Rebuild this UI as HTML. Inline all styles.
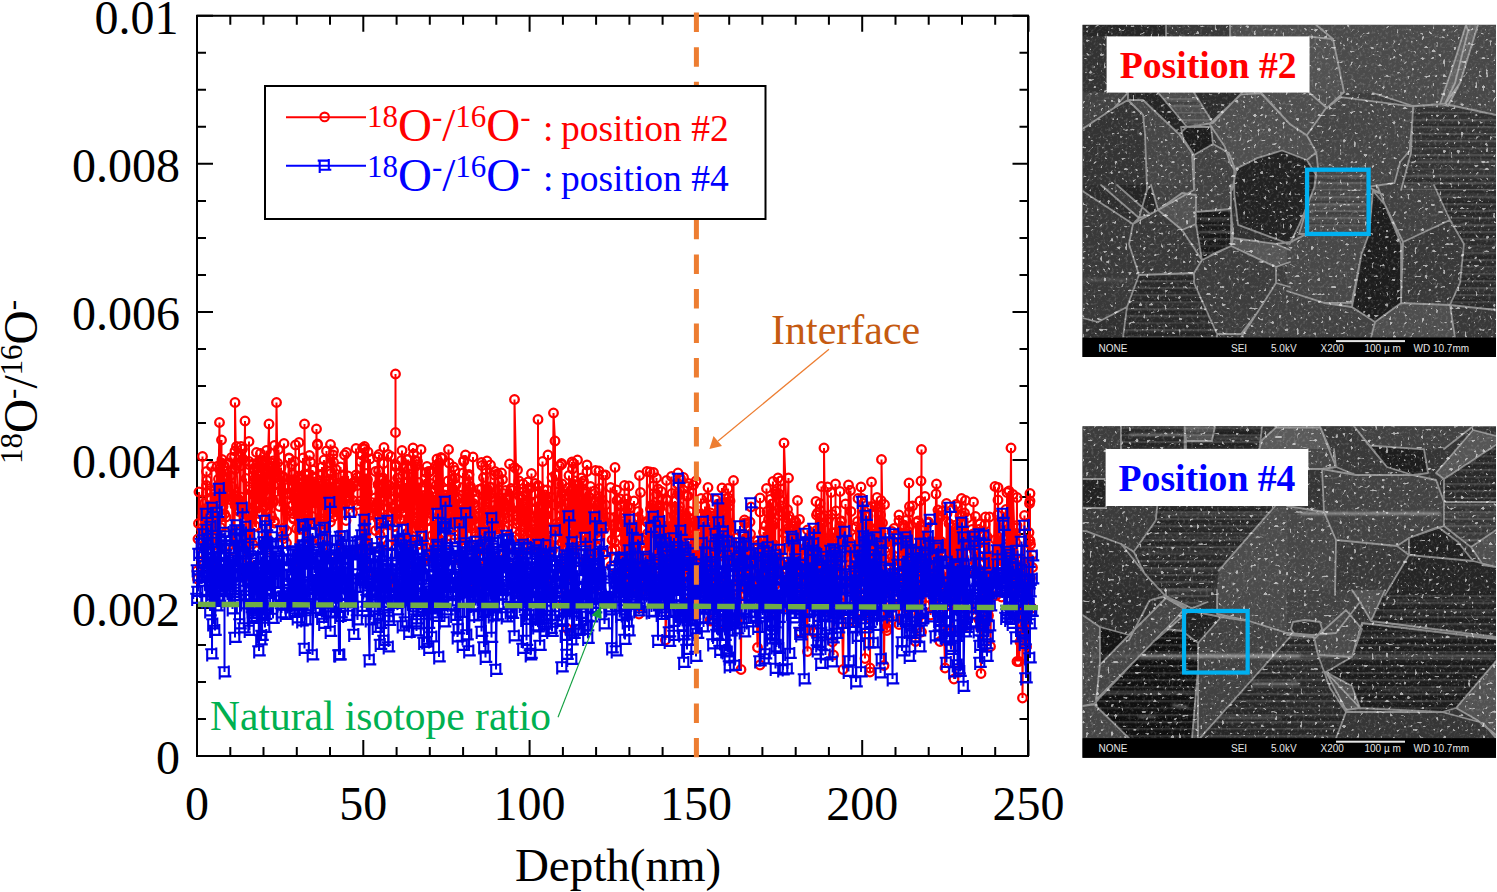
<!DOCTYPE html>
<html><head><meta charset="utf-8"><title>18O/16O depth profile</title>
<style>html,body{margin:0;padding:0;background:#fff;overflow:hidden}svg{display:block}</style></head>
<body><svg width="1497" height="892" viewBox="0 0 1497 892">
<rect width="1497" height="892" fill="#fff"/>

<path d="M197 756.0v-16M197 15.8v16M230.3 756.0v-9M230.3 15.8v9M263.5 756.0v-9M263.5 15.8v9M296.8 756.0v-9M296.8 15.8v9M330 756.0v-9M330 15.8v9M363.3 756.0v-16M363.3 15.8v16M396.6 756.0v-9M396.6 15.8v9M429.8 756.0v-9M429.8 15.8v9M463.1 756.0v-9M463.1 15.8v9M496.3 756.0v-9M496.3 15.8v9M529.6 756.0v-16M529.6 15.8v16M562.9 756.0v-9M562.9 15.8v9M596.1 756.0v-9M596.1 15.8v9M629.4 756.0v-9M629.4 15.8v9M662.6 756.0v-9M662.6 15.8v9M695.9 756.0v-16M695.9 15.8v16M729.2 756.0v-9M729.2 15.8v9M762.4 756.0v-9M762.4 15.8v9M795.7 756.0v-9M795.7 15.8v9M828.9 756.0v-9M828.9 15.8v9M862.2 756.0v-16M862.2 15.8v16M895.5 756.0v-9M895.5 15.8v9M928.7 756.0v-9M928.7 15.8v9M962 756.0v-9M962 15.8v9M995.2 756.0v-9M995.2 15.8v9M1028.5 756.0v-16M1028.5 15.8v16M197.0 756h16M1028.5 756h-16M197.0 719h9M1028.5 719h-9M197.0 682h9M1028.5 682h-9M197.0 645h9M1028.5 645h-9M197.0 608h16M1028.5 608h-16M197.0 571h9M1028.5 571h-9M197.0 533.9h9M1028.5 533.9h-9M197.0 496.9h9M1028.5 496.9h-9M197.0 459.9h16M1028.5 459.9h-16M197.0 422.9h9M1028.5 422.9h-9M197.0 385.9h9M1028.5 385.9h-9M197.0 348.9h9M1028.5 348.9h-9M197.0 311.9h16M1028.5 311.9h-16M197.0 274.9h9M1028.5 274.9h-9M197.0 237.9h9M1028.5 237.9h-9M197.0 200.9h9M1028.5 200.9h-9M197.0 163.8h16M1028.5 163.8h-16M197.0 126.8h9M1028.5 126.8h-9M197.0 89.8h9M1028.5 89.8h-9M197.0 52.8h9M1028.5 52.8h-9M197.0 15.8h16M1028.5 15.8h-16" stroke="#000" stroke-width="2" fill="none"/>
<path d="M197.0 15.8V756.0M1028 15.8V756.0M197.0 15.8H1028M197.0 756.0H1028" fill="none" stroke="#000" stroke-width="2" stroke-linecap="square"/>

<defs>
<marker id="mc" markerUnits="userSpaceOnUse" markerWidth="14" markerHeight="14" refX="7" refY="7" overflow="visible"><circle cx="7" cy="7" r="4.3" fill="none" stroke="#ff0000" stroke-width="2.3"/></marker>
<marker id="ms" markerUnits="userSpaceOnUse" markerWidth="14" markerHeight="14" refX="7" refY="7" overflow="visible"><path d="M0.2 2.25H11.8M11.3 0.5V10.9M1.7 11.4H13.8M2.2 2V14.6" fill="none" stroke="#0000e6" stroke-width="2.1"/></marker>
</defs>
<path d="M197 571l0.5 8l0.5-40l0.5-15.5l0.5-31.5l2.5 36.5l0.5 32.5l0.5-104.5l0.5 59.5l0.5 16l0.5-0.5l0 32l0.5-60l0.5 7l1.5-39l0 14l0 7l0.5-12l0 45l1 3.5l1.5-15l0.5 35l0-33l0.5 5l0-30.5l0.5 19.5l0 56l0-57.5l0.5-42l0.5 96l0-32l0.5-24l0 39.5l0.5-23.5l0-18l0.5 39l1-49.5l0.5-4l1.5 46.5l0.5-39l0-31l0.5 37l0.5-18l0.5-6.5l1-56.5l0 46.5l0.5 18l0.5 40.5l0.5-45l0-10l0 1.5l0 43l0.5-32.5l0-44.5l0 51l0-28l0.5-3.5l0.5 39.5l0.5-21l0 28.5l1-40.5l0.5 34.5l0 13.5l0-15.5l0 1.5l0-13.5l0-2.5l1 48.5l0.5-15.5l0-30l0.5-3.5l0.5 11.5l0.5-32l1 1l1 35.5l1-24l1-18l0.5 29l0.5 63l1-55l0.5 1l0.5-38.5l0 95l0.5-101l0 50.5l0-32l0 36l0-103l1 60.5l0.5-16.5l0 19l1.5 33.5l0 10l0.5-5.5l0.5 8l0.5-11l0-44.5l0.5 75.5l0 14.5l0.5-49l0.5-50.5l0.5 19l1-16.5l0.5 10l1 59l1-97l0.5 155l0.5-61.5l0-36l0 64.5l1.5 15l0.5-23l1-45.5l0-28l0-20l0 23l0.5 77l0.5 24l2-74l0.5-27l0 79.5l0.5-32.5l0.5-2.5l0-14.5l0 6.5l0-21l0-16l0.5 29.5l0-25l0 2l1 55.5l1 0.5l0-46.5l0.5-27.5l0 37.5l1.5-27.5l0 41.5l0-36.5l1 46l0.5-39l0.5 8.5l0.5 0l0-29.5l0.5 9l0 50l0.5-44.5l0.5 77l0.5-80.5l0-4l0.5 17.5l0 1l0.5 13l0-23l0 38.5l0.5-44.5l1 39l0 4.5l0-16.5l0.5 5l0 50.5l1-95l0 38.5l0 55l0.5-83l0 33l0-7l2-63l0.5 96l1 61.5l0.5-115l0 19.5l0.5-23l0 53l1-15l0.5-40l0 41.5l0.5-2l0.5-15l0.5 37.5l0-77.5l0 75.5l0.5-29l1-18l0.5-71.5l1 74.5l0-14l1-13.5l1 26.5l0 30.5l1.5-39l0.5 69l0.5-44.5l0.5-14.5l0.5-1l1 51.5l0 10.5l0-95l1.5 65.5l1 34l0.5-12l0.5-37.5l1.5-35l0 35.5l0-36l0 29l2-7l0.5-15.5l0.5 41l0.5-20.5l0 21l0.5 7.5l0-39l0.5 44.5l0-27l0 26l0-21l1 13.5l0-49l0.5 30.5l0 0.5l0.5-47.5l0 136.5l1-53l0.5 49l0.5-82l0.5-13.5l0.5-6l0 11l0.5 34.5l0-79l0 44l0.5 17l0 26l0.5-46.5l0.5 27.5l0.5-1l0.5-20l0.5 0l0 31l1-62.5l0.5 68l0 3.5l0-42.5l0.5 5l0 2l0 14.5l0.5-13.5l0 18l0-89l0.5 50l0.5 53l0.5-24l0.5-28.5l1 21l0.5-20.5l0 63.5l0.5-19.5l0.5-25.5l0.5-38l0 48.5l0.5 35.5l0.5-77.5l1.5 62l0-21.5l0.5-32.5l0 46.5l0-40l1.5 5.5l0.5 20.5l0-14.5l1 37l0.5-25l0.5-71l0.5 70l0.5-55l0 39l0-38l0.5 81l0.5-28.5l0.5 5.5l0 36.5l0.5-59l1 38l0-15.5l0 39.5l1.5-75.5l0.5 7l0.5 11l0.5 39l0-11l0.5-53l0 45l0.5-16l0.5 3.5l0.5 38l1-79.5l0.5 105.5l0.5-66.5l0 9.5l0 46l2.5-58.5l0-6l0 14l0.5 27l0-39l0-20l0 27l0-45.5l0 26.5l0.5 2.5l2-18.5l0 62l0-4.5l0-31.5l0.5 0l0-30l0 11l0.5 29.5l1-1.5l0.5 15l0 2.5l0.5 3l0-41l0 41.5l1-3.5l0.5-16l0 20.5l0.5-8.5l1 59l0.5-77.5l0.5 20.5l0-15l0.5-5.5l0 67l0-85l0.5 24l0.5-1l0 59l1-73l0.5 6l0.5 23l0-18.5l1-31.5l1 48.5l0.5 17l0.5-68l1 32.5l0.5 13l0-22l0.5 11.5l1 10.5l0.5-13.5l0 20l1-18.5l0.5 2l1 24.5l0.5-12l1-17.5l2-2l0-6l0-26.5l1.5 37l0-8.5l0 27.5l3-3.5l0-39.5l0 91.5l1-71l0.5-27l0.5 94.5l0-101.5l0.5 99l0-64l1.5-36.5l0 2.5l0 73l0.5 12l0.5 4.5l0.5-65l0 33.5l0.5-12l0.5-7.5l0-4.5l0.5-3.5l0 12.5l0.5 53l0-93l1.5 127.5l0.5-120.5l0.5 56l1-12.5l0 10l1-4.5l2.5-10l0 8l0.5 24.5l0-59l1.5 43.5l0.5-58l0 45.5l0.5 16.5l0-34.5l0.5-13.5l0 14l0.5 21.5l0-52l0.5 74l0-4.5l0.5-31l0 42l0.5 38l0-24l1-62l0-8.5l0.5 2l0 6l0.5 10l0.5-18.5l0.5-14.5l0.5 56.5l0-72.5l0 62l0.5-16.5l1.5-5.5l2 57l0-90l0 70.5l0.5-23l0 12l0.5-29l0.5 1l0.5 12.5l1-42l0 34.5l0.5 20.5l0.5 76l0.5-79.5l1.5 0.5l0.5 18l0-0.5l1-93.5l0-58.5l0 92.5l0.5-1.5l0 56.5l1.5-29l0 49.5l0-64l2.5 11.5l0 29.5l1-15l0.5 4.5l0 11.5l0-59.5l0.5-10l0.5 25l0.5-7l0 27.5l0.5 15.5l0.5-44l0 45l0.5-23.5l0.5 16l0.5-22l0 20l0.5-20l0 57l0.5-35.5l0.5-45l0.5 73.5l0.5-11l0-62.5l0 29.5l1-20l0 101l0.5-72.5l0.5 43.5l0 3.5l0.5-55l1-23.5l0.5 82l0-12l0.5-16l0-14l0 37l0.5-95l0 36.5l0.5-30.5l0.5 64.5l1-58l0.5 6l1 51.5l0-25.5l0-28l0.5 75l0-18.5l0.5-59.5l0.5 63l0-8l0.5 28l0-17.5l0.5-44.5l0.5 46.5l0 15l1-21l0.5-73.5l0.5 49l0.5 23l0-22l0.5-9l1 10l0.5 59.5l0-64.5l1 16l0-32.5l0.5 67.5l0.5-74l0.5 48l0.5 37l0-91l0.5 54.5l1-27l0.5 16.5l0-38.5l0.5-0.5l0.5 0l0.5 12l0.5 6.5l0 68l0.5-58l0.5 35.5l1-43.5l0 9l0.5 49l1.5-11.5l0.5 3l0.5-7.5l0-21l0-27.5l0-20l1 71.5l0-12.5l0-65.5l0.5 20l0.5 20.5l0 51l0-12.5l0-36l0 23l0-59l0 38l0.5-5.5l0 42.5l0.5-1.5l0-76.5l0 63.5l0.5-12l0.5-19l0 4.5l1-42.5l0 92l0.5-48.5l0.5-1l0.5-41.5l1 56l0-17l1 35.5l0-38l0.5 0.5l0.5 32l0.5-6l0.5-12.5l0-19l0.5 54l1-63l0 37.5l0.5-69l0.5 13.5l0 58l1.5 7l2-49l0 10.5l0.5 2l0 30.5l0-9l0.5-46l0 23l1 45l0.5-64.5l0 29l0 39.5l0-60.5l0.5 36.5l0.5-30l0.5 41.5l1-28l1 61.5l1-61.5l0.5 58.5l0.5-52l0 84l2-77l0-24.5l0 7.5l0.5-22l0.5 70.5l0-82l0.5-1l1 87.5l0.5-93l0 73.5l0.5-17l0.5-6.5l0.5 82.5l0.5-95l0.5 26.5l0-24.5l0.5-13l0 40.5l0-46l0 18.5l0.5 26.5l0-46.5l1.5 12l0 40.5l1.5 34.5l0-33l0.5-36l0.5 26.5l0-62l0.5 46.5l1 2.5l0-6.5l1 40l0-23.5l0 16.5l1 52.5l1.5-17.5l1-78l0 37l0.5-10l0.5 42l1-27.5l0.5-42.5l0-26l0.5 66.5l0-63.5l0.5 49.5l1 9l0-46.5l0 89.5l0.5-71l0 52l0.5-10l0-3.5l0.5-25l0 0.5l0.5-6l0.5 3l0-37l1-9l1 30.5l0-1.5l0.5 35.5l0.5 22.5l0-52.5l0 17l0.5-25.5l0.5 84l0.5-106l0 88.5l1-40.5l0-25.5l0.5 70l0-26l0.5 45.5l1-18l0 16l0-64l0-5.5l0.5 19l0.5-49.5l0.5-3.5l1 43.5l0 6.5l0 2l1.5 5.5l0-55l1 33.5l0.5 18l0-43.5l0.5 16l0.5 29.5l1-22l0.5 11l0-43.5l1 6.5l0 80l0-39l0.5-27l0.5 36l2-39l1 15l0.5-8l0.5 20.5l0-11.5l1-6.5l0 62l0.5-17l0 3l0.5-84l0 43l0-2l1 6l0.5-22.5l1 51.5l0.5-49.5l0.5 38l1.5-61l0-68l2.5 115l0 9.5l0-4.5l0-3l0.5-46.5l1.5 11l0 72.5l0-44l0-14l0 50l0.5-8l0.5-5.5l1 61l0-95.5l0 21.5l0.5 1.5l1-5l0-5.5l0.5-26l0 28.5l0.5-20.5l1 42.5l0-27.5l0.5 21l1-5l0.5 23.5l0-2.5l0-40l0-9l0 9l0.5 35.5l0-31l0 89l0.5-108.5l0 30.5l0.5-9.5l0-28l1.5 50l0-43.5l0.5 44l0.5-30.5l0.5 29.5l0.5-22l0-36l0.5 65.5l0.5-1l1.5-8.5l1-20l0-26l0.5 54l0 45.5l0.5-43.5l0-38l0.5 35l0.5-17.5l0 30.5l0.5-9l0 37.5l0.5-64.5l0-94l0 66l1 1l0.5 60l0.5-38l1.5 9.5l0-22l0 76l1-50l0-60.5l0.5 61l0-9.5l0.5 7l0 37.5l0.5-67.5l0 21.5l0.5 3.5l0.5-18l0-2l0.5 84.5l0-74.5l0 33.5l0.5-23.5l0.5 27.5l0.5 5l0-57.5l0 30.5l0.5 8.5l0.5 0l0-74l0 65.5l1.5 74.5l0.5-47.5l1-19.5l0-31l1-19.5l0.5 72.5l1-137l1.5 28l0 64l0.5 32.5l0 2l0-64.5l1 52.5l0-4l2-39.5l1-18l1.5 102.5l0-41.5l0.5-6l0-57.5l0 1l0 58l0-13.5l0.5-16l0-9l0 46.5l0-37l0 49l0 63l0.5-41l1.5-50.5l1-18l0.5 96.5l0-14.5l1.5-56l0 106.5l0.5-125.5l0-15l0.5 53.5l0-45.5l1 31l0-51.5l0.5 36l0.5 17l0.5-11.5l0-26.5l0 24l1 5l0 47l0-61.5l0.5 14.5l0-57.5l0 59l0 2l0 17.5l0-43l0.5 29.5l0 16l0-74l1-5.5l0.5 71.5l0 18l0.5-68.5l0.5 63l0-66.5l0 44l0.5-35l0.5 72l0-40.5l0.5-36l0.5 21l0.5 31.5l0-78l1.5 37l0 31.5l0.5 12l1-11l1-51.5l0 68l1-26l0.5-36.5l0.5-2.5l0.5 45.5l0-33l0.5 10l0.5 37l0.5-41.5l0.5-7.5l0 67l0.5-59.5l0.5-34l0 6.5l0.5 29.5l0 64l0.5-58l0.5 34l0.5-44l0 26.5l1 37l0.5-74l1 43l0 26l0.5-35l0.5 33.5l1-44l0.5 15l0 9.5l0-33.5l0.5 63.5l0-73.5l0.5 97l0.5-117.5l0.5 46.5l0.5 14.5l0 15.5l0.5-41.5l0.5 23l0.5 0.5l1-58l0 66.5l0.5-6.5l0-21.5l0-21l1 40l0.5-10l0.5 3.5l0-22.5l1.5-24.5l1 79.5l0.5-26l1-3l0-20.5l0-30l2 50l2-7.5l1-30l0.5 78.5l1-15.5l0-10.5l1.5-14.5l0.5-8l0.5 25l0.5-75l0 81.5l1-16.5l0.5-42.5l0.5 10.5l1.5 26l1.5-12.5l0.5-15l0.5 28l0-22l0.5 52l0.5-32.5l1 56.5l0.5-24.5l0.5 8.5l0.5-79.5l0 57l0.5-25l0 40.5l0.5-24l0 2.5l0 19.5l1-57l0 84l1-76l1.5-21l0 69.5l0-28.5l0.5 53.5l0-51l0.5 57l0.5-78.5l0.5 37.5l0 45l1-18l0.5 10l0.5-43.5l1-38l1 42.5l0.5 26l0.5-11l0-32l1.5 60.5l0.5-75.5l0.5 6l0.5 96.5l0.5-138.5l0 111l1-47.5l0-46.5l1.5 95l2.5 7.5l0.5-24.5l0.5-1l0-32l0 13.5l0.5-1l0.5-28.5l0.5-50l0 91l0.5-40l0 11l1.5 35l1-96.5l0.5 105l0-68l0.5 50.5l0-38l0.5-5.5l0.5-11l1.5-19l0 76.5l0-90l0.5 47.5l1.5 42l0.5 18.5l0.5-86.5l0-16l0 56.5l1-26.5l0.5-19l0 41.5l0.5 18l1-13.5l0-29.5l0 27.5l0.5 43l0-68l0 85l0.5-33.5l1-68l0 34.5l0 0l0 4.5l1-31.5l1.5 37l1 65.5l0.5-75l0 113.5l1-35l0-124.5l0 19l0.5 51.5l0-13.5l0.5-5.5l0-31.5l1 61.5l0 3.5l1-8.5l0-26.5l0.5-4l0 22.5l0.5-39.5l0 61l1-94l0.5 83l0-13.5l0-52.5l0 53.5l1.5 23.5l0.5-36l0 36l0-55l0.5-8.5l0.5-6l1 72l1-31.5l1-68.5l0 11.5l0 8.5l0-9l0.5 100l0.5-89l0 15.5l0.5-4l1-28l0 42.5l0.5 13l1-18l0 33l0.5-29l0.5 86.5l0.5-129l0.5 78l0-37l0 8l0 7l0.5 0l0.5 1.5l0 59l0.5-37.5l1-60.5l0.5 77l0.5 1.5l0-88l0.5 9.5l0.5-12.5l0 55l0.5-10l0.5-17l1 7l0.5 23l1 47.5l0.5-25l0 27l1-106l0.5 68l0-8l0.5-16l1 9.5l0-17.5l0 40l0 31.5l0.5-111.5l0 83.5l0.5-8.5l0.5 11.5l0.5-8.5l0-20l0-25l2.5 63l0-3.5l0.5-10l0.5-65l0 84.5l0-46l0.5-21l1 72l1-51l0-1l1 32.5l0.5-20l0-42l0.5 26l0.5 23l0-7l0-22.5l1-28.5l0 16.5l0 2l1-28.5l0 107.5l1-3.5l1 29l0.5-107.5l0 108l0.5-77.5l0.5-27.5l0.5 74.5l0.5-25.5l0.5-13.5l0-34.5l0 78l1.5-63.5l0.5-13l0 19l0.5 0l0-38l0 35.5l1.5 8.5l0.5 11l0-34l0.5 32.5l0-32.5l0 19l0.5-35.5l0 66.5l0.5-60l0 20.5l0.5-2l0.5-25l0.5 26l0.5-18l1-24l1 26.5l0.5 65.5l0 43l1-102.5l0 36.5l0.5-23.5l0 16.5l1-51.5l0 4l0.5 80.5l0.5-48.5l0.5 20l0 6l0-39l0.5 27.5l0-20l0-40.5l0.5 9.5l0.5 8l0.5 52.5l0 26.5l0.5-84l0 54l1-12l0.5 14.5l0-16.5l2-60.5l1 106l0.5-32l1-16.5l0.5 60.5l0-12l1-24.5l0 3.5l0.5-13l1 20l0 7.5l0-2l0.5-18.5l0.5-9.5l1 119.5l0.5-104.5l1-31l0.5 16.5l0 43l0.5-35l0.5-11.5l0.5-27l0 83l0-80l0 39.5l0.5-23l1-16.5l0.5 54l1.5-2l1.5-24l0.5-29l0 44l0.5 30.5l0-25l0-37.5l0.5-27l0.5 58l0.5-6l0-5l3.5-1.5l2 95l0-84l0-22.5l0.5 4l0 2.5l0.5 36l0-16l1.5 97.5l0-153l0-14l0.5 85l0-26.5l0 2.5l0.5-0.5l0.5 35l0-15.5l1.5-13.5l0.5-19l0-13.5l1 25l0 31l0.5-37.5l0 1l0-3.5l0.5-22.5l0.5 31l0 1.5l0.5-69.5l0.5 23l0.5 40.5l0 29.5l0.5-17l0.5-29l0-16l1.5-20l0 58l0.5-14l0 17.5l0.5-15l0 16l0.5 23.5l0.5-72.5l0 31l0-40l0.5 62l0.5-84.5l0 44l0 88l1-19.5l0-71.5l0.5 22.5l0 67l0.5-38l0 11l0.5-93.5l0.5 3l0.5-1l1.5-15.5l0.5 79l0.5 17l0-80l0 21.5l1.5-15l0-19.5l0 30.5l1-5.5l1 102l0.5-31l0.5-44l0.5-90l3 80.5l0.5 41.5l0-55.5l1-31.5l0 50l0-9l0.5 11.5l0-14.5l1 24.5l0 25l0-24.5l1 3.5l1 57l0-61.5l0 7.5l0-6.5l0.5 26.5l0.5-36l0.5-5l0 46.5l1-36l0.5-16l1 1.5l0.5 58.5l0 3.5l0.5-36.5l0.5 37.5l0-85l0.5 77l1.5-58l0.5 52l0-5l0 65.5l0.5-76.5l0.5 29.5l0-16l0.5 38.5l0-25l3-25.5l0-2.5l0.5 36.5l0-14l0 5l0.5-34.5l0.5 10l1.5 94l0-121.5l0 47.5l0.5-38l1 46l0.5-42.5l0 14.5l1-6l0.5-15.5l0.5 2l1 10l0.5 0l0 50.5l1-42l0 74.5l0 1.5l1.5-67.5l0-3l0.5-60.5l0.5 29l0-15.5l0.5 50l0-26.5l0.5-25.5l0 22.5l0.5 6l0 8.5l0 36l0.5-1l0.5 19l1-100.5l1 60l0 14l0-36.5l0.5 33l0-57l0-30.5l0 51l0.5 40.5l0 28.5l1-83.5l0.5 14.5l0.5 57.5l0-79.5l0-67.5l1.5 121.5l0.5-7.5l0.5 4.5l0.5 27.5l0.5-107l1 32l0.5 21.5l0.5 12l0.5 58l0-37l1-27l0-54l0 74l1-25.5l0-26.5l0 18.5l0.5 109l0.5-109l0 43l0.5-1l0 80l0.5-63l1.5-59.5l0-48.5l0 95.5l0.5-68.5l0.5 26l0 7l0.5 31l1-14.5l0.5 7.5l0.5-35.5l1-6.5l0-34.5l0.5 30l0 9l0.5 72.5l0.5-82l0 68.5l1.5 80l2-125l0.5-40.5l0.5 79.5l0.5-13.5l1-29.5l1 16l0-71.5l1 101.5l1-96l0.5 21l1 39.5l0.5-2.5l0.5 33l1.5 40l0-52l0.5 8l0-16.5l0.5 37l0.5-71l0.5 10l1-15.5l0 97.5l0.5-120.5l1 58.5l0 44.5l0.5-2l1.5-112.5l0 106.5l0.5-23.5l0.5-71.5l0 17.5l0.5 24l0.5 8l0-20l0.5-24.5l0.5 50l0.5 11l0-29.5l0.5 123.5l0-105.5l0 18l0.5-14l0 6l0-19l0.5 8.5l0 1.5l0 7l0.5 21l0.5-7l1-49.5l0 92l0-101.5l0.5 24l0.5 62.5l0-30.5l0-63.5l1 53l0 106.5l0 4l0.5-128l0 9l0.5-18.5l0.5-52.5l0 74.5l0-5l0-45l1.5 52.5l0.5-1.5l0-28.5l0.5 7.5l0 48l0.5-10.5l0.5-67.5l0.5 85l1-62l0.5-32l0 35.5l1 14.5l0.5-40.5l0 37l1 13l0.5 7.5l0.5-49.5l0 16.5l0.5-31l0 68.5l0.5-0.5l0 4.5l0-26l0-87.5l1 63.5l1 21.5l0.5 48.5l0 72.5l0.5-41.5l0-119.5l0.5 55l0.5-7.5l0 20.5l0.5-29.5l0.5 84.5l0.5 3l2.5-13l1-62.5l1.5-23.5l0 8.5l0.5 22l0.5 42.5l1-76l0.5 39.5l0 39l0-46.5l0 14.5l0.5 9l2.5-4.5l0.5 26l0-57l0.5 16l0.5-44l0 104l0-109.5l2.5 45.5l0.5 3.5l0.5 23.5l0 0.5l0.5 25l0.5-88l0.5 41l0 15.5l0.5-54l0.5 49l0.5-9.5l0.5 4l0-50.5l0 33l1.5-1.5l0.5-20.5l0 29.5l1-78l0.5 109.5l0-80.5l0-5.5l0 94l0-74l0.5 21.5l0.5 25l0 29.5l0.5-53l0.5 45l0.5-24l0.5-64.5l0.5 57.5l2.5 78l0.5-119l0.5 78l1.5-79.5l0 63.5l1.5 31.5l0.5-115l1 48.5l0-68.5l0 107.5l0.5-139l0 114l0 68.5l0-31l0.5-11l0.5-25.5l0-34l0.5 55l0.5-4.5l1.5-84.5l0 59.5l0 22.5l0.5-21l0 48l1.5-66.5l1-16l0 57.5l0.5-58.5l0.5 48l0.5-21.5l0.5 38l0.5 2.5l0 26l0.5-64l2 19l0-1.5l0.5 32.5l0 1.5l0.5-19.5l0-41l0.5 6l0.5 36.5l0.5-36l0.5-54.5l0.5 61.5l0-71.5l0.5 59l1-33l0.5 69l0-63.5l0.5 88l0.5-53l0 21.5l0 38l0.5 31.5l0-124l1 24l1-30l0 41l3 115.5l0.5-82.5l0.5-4.5l0.5-2.5l0-75l0 85l0 7l0.5-82l0.5 30l0.5 41l1-8.5l0-52.5l0.5 22.5l0.5 7l0 53l1-62.5l0 59l0.5 29.5l0-105l0 45.5l0 3l0 20.5l0.5-64l2 147l0-140.5l0.5-13l0.5 81.5l1-53l0-1.5l0-48l1 55.5l0 36l0-33l0.5 14l0-70.5l0 29l0.5 12.5l0 6l0.5-25l0 50l0.5 16l0.5 75l0.5-154l0 26l0-5.5l0.5 22.5l1-60.5l0 99.5l0.5-82.5l0 32l0.5 30.5l0 28.5l1-49l0 14.5l0-27l0 38l1 30.5l0-73.5l0-27l0.5 20.5l0.5-33l0.5 45.5l0.5 79.5l0-51.5l1-56l0.5 26l1.5-6.5l2.5-8l0.5 37.5l0.5-33l0 81l0.5-113l0.5 47.5l0.5 1l1-34l0 46l2 7l0.5-25.5l0.5-14.5l0.5 90l0.5-45.5l0-4l0.5-14l0-32l0 88l0-70l0.5 85.5l0.5 46l0.5-91.5l0.5-9.5l0.5 13l0.5-4l1-6.5l0-2.5l0 59.5l0-17l0.5-36l0-36.5l0.5-18l0.5-7.5l1 41.5l0 33.5l0.5-36.5l0-19l0.5 20.5l0.5 45.5l0.5-36.5l0-2l0 51.5l1-7.5l0-91l1 129.5l1-90.5l2 16.5l1.5-86l0.5 53l0.5 56l1.5-80.5l0.5 69l0-96.5l0 12.5l1.5 66l1.5-32.5l0.5 22.5l0 41l1.5-74.5l0.5 24.5l0-16.5l0.5-8l2-13l0.5 14l0 42.5l0-6.5l0.5-12.5l0 20.5l0 4l0-79l0.5 51.5l1.5-53l0 101l1-27.5l0 14.5l1-131l0.5 126l0.5-6.5l0.5 12l0.5-85l1.5 42.5l0 54l0.5-7.5l0.5-49l0 7.5l0.5 44l0.5-58l0 89l0-36l0.5-83.5l0 164l0-91l0-45l0.5 43l0 24l1.5 69l1-19.5l1.5-28.5l0.5-53l0.5 137.5l1-134.5l0 5.5l1-53.5l0 111l0-51.5l0.5 1l1-1l0.5 22l0 49.5l2.5-107l0-7l0.5-29l0.5-10l0 7.5l0 40l0.5 37l0-33.5l1.5 63.5l0.5-53.5l0 13" fill="none" stroke="#ff0000" stroke-width="2" marker-start="url(#mc)" marker-mid="url(#mc)" marker-end="url(#mc)"/>
<path d="M197 598.5l0.5-28.5l0.5 21.5l0.5-15.5l0.5-22.5l2.5-10l0.5 10l0.5 3.5l0.5 15l0.5-32l0.5-6l0 43.5l0.5-1l0.5 14l1.5-17.5l0 3.5l0-63l0.5 16l0 71.5l1-56l1.5 27l0.5 39l0-52l0.5 24.5l0-26l0.5 37.5l0-12l0-56.5l0.5 35.5l0.5 24.5l0 67.5l0.5-146.5l0 79.5l0.5-23l0 60l0.5-81.5l1 59l0.5 29l1.5-67l0.5 42.5l0-32l0.5-61.5l0.5 70l0.5-33.5l1 47.5l0-108l0.5 88.5l0.5-20.5l0.5 14.5l0 12.5l0-44.5l0 34.5l0.5 18l0-10l0-6l0-10.5l0.5-1l0.5 25.5l0.5-8l0-17.5l1 11l0.5-42.5l0 47.5l0 19l0-13.5l0 86.5l0-88.5l1-37.5l0.5-10l0 5l0.5 43l0.5-6l0.5 22l1-37.5l1-14l1 16l1 25.5l0.5-30l0.5 49l1-51l0.5 17.5l0.5-10l0 24l0.5 3l0 45l0-72.5l0 1.5l0 29.5l1-66l0.5 8l0-13l1.5 48.5l0 3.5l0.5-15.5l0.5-16l0.5-15l0 65l0.5-21l0 49.5l0.5-47l0.5-31l0.5 6l1-44l0.5 44l1 76l1-37.5l0.5-27l0.5-37l0 77.5l0-8l1.5-27.5l0.5 11l1-32.5l0 36l0-13.5l0 1.5l0.5 59.5l0.5-96l2 71l0.5 11.5l0-6l0.5 2.5l0.5-45.5l0 37l0-42l0 5l0 50.5l0.5-29.5l0-29l0 44.5l1-20l1-1.5l0-24.5l0.5 36.5l0 21.5l1.5-35l0-2l0-30l1 101.5l0.5-72.5l0.5 7.5l0.5-1l0-16l0.5 71l0-83.5l0.5 37l0.5 42l0.5-22l0-46.5l0.5 27l0-36.5l0.5-21l0 69.5l0 9.5l0.5-73.5l1-21.5l0 52l0 55l0.5-13l0-67.5l1-21l0 50l0 32.5l0.5-66.5l0 67l0-18l2-1.5l0.5 0.5l1-31.5l0.5 40.5l0-30l0.5-25l0 0l1-7l0.5 46l0 35.5l0.5-50.5l0.5-1l0.5-1.5l0 18l0-22.5l0.5 39.5l1-49l0.5 15l1 3l0 2l1-15.5l1 2.5l0-0.5l1.5 39l0.5 16l0.5-82l0.5 74l0.5-61.5l1 52.5l0-35.5l0 38l1.5 16l1-13.5l0.5-1.5l0.5-10l1.5 0.5l0 2.5l0 7.5l0-25.5l2 0l0.5-15.5l0.5 33.5l0.5 13.5l0-30l0.5-25l0 3.5l0.5 46l0-13l0-22l0 24l1 22l0 1l0.5-28.5l0-17.5l0.5-14.5l0 35.5l1 17l0.5-10l0.5 23.5l0.5-46l0.5-18l0 29.5l0.5-28.5l0 32.5l0 4l0.5 19l0-33l0.5 3.5l0.5-8l0.5-24l0.5 43.5l0.5 28.5l0-57.5l1-39l0.5 22l0 59.5l0-43.5l0.5-17.5l0 5.5l0-24.5l0.5 26l0 96.5l0-89l0.5 35.5l0.5 4l0.5 21l0.5-11.5l1-24l0.5-39l0-1l0.5 12.5l0.5-15l0.5 43.5l0 11.5l0.5-73l0.5 38.5l1.5 22l0-29.5l0.5 40l0-62l0 122l1.5-65.5l0.5-9.5l0 0.5l1 28l0.5-56.5l0.5 6.5l0.5 15l0.5-14l0 28l0-38.5l0.5 41.5l0.5 13l0.5-23.5l0 0.5l0.5-15l1-8.5l0-27l0 80.5l1.5 7l0.5-50l0.5-27.5l0.5 7.5l0 30l0.5 3.5l0 42.5l0.5-96l0.5 52.5l0.5-14l1 41l0.5-57l0.5 28l0 3.5l0 1l2.5-4.5l0-75.5l0 55.5l0.5-1l0 37.5l0 17.5l0 19.5l0-41.5l0 6l0.5-28l2 45l0-56l0 32.5l0 7.5l0.5-16l0-8l0 21l0.5-1.5l1-19l0.5-14.5l0-4l0.5 38l0 14.5l0-44.5l1-22.5l0.5 47l0-2l0.5 0.5l1 69l0.5-106l0.5 106l0-38.5l0.5-80l0 22l0 36l0.5 18.5l0.5-39.5l0 15l1-35.5l0.5-17l0.5 48l0-11.5l1 23l1-36l0.5 20l0.5 15.5l1-10.5l0.5 31l0-64.5l0.5 2.5l1-41l0.5 41.5l0 44.5l1-53l0.5 51l1 6.5l0.5-48l1 79.5l2-60.5l0 13.5l0-8.5l1.5 41l0-69.5l0-8.5l3 38.5l0-39.5l0 10.5l1-9l0.5-7.5l0.5 71.5l0-54l0.5 25.5l0-24l1.5 27l0-61.5l0 10.5l0.5 44.5l0.5-12l0.5 5.5l0-1l0.5-17.5l0.5 50l0 12l0.5-67l0 20.5l0.5 21l0 6l1.5 68l0.5-78.5l0.5 38.5l1-21l0-32l1 25.5l2.5-44.5l0 7l0.5 37.5l0 2.5l1.5-2.5l0.5 8l0 27l0.5-52l0-19l0.5 59.5l0-49.5l0.5 16l0-9.5l0.5 36.5l0-57.5l0.5 42.5l0-37.5l0.5 66.5l0 21l1-121.5l0 53l0.5 9.5l0-44l0.5 23.5l0.5 27l0.5 5.5l0.5-29l0 14l0 58l0.5-67l1.5 29l2 3l0-29l0-56l0.5 126.5l0-77.5l0.5 47.5l0.5 3.5l0.5-33l1-34l0 17l0.5 0l0.5-25l0.5 19.5l1.5 28.5l0.5 10l0-17l1-17.5l0 18l0-2.5l0.5 8.5l0 6.5l1.5 10.5l0-10.5l0-68.5l2.5 18.5l0-8l1 33.5l0.5 6.5l0-25l0 32l0.5-40.5l0.5 78l0.5-69l0 42l0.5-69.5l0.5 43l0-12l0.5 37.5l0.5-1.5l0.5-37l0 62.5l0.5-77l0 49l0.5-41.5l0.5 43l0.5-16l0.5-3.5l0-22l0 47l1-37.5l0 69l0.5-75l0.5 43l0-22.5l0.5 20l1-9.5l0.5-39l0-3l0.5 56.5l0-20.5l0-2l0.5 23l0-14.5l0.5 18l0.5-43.5l1 40.5l0.5-63.5l1 90.5l0-12l0-56.5l0.5 33.5l0 28l0.5-50l0.5 37.5l0-62l0.5 26.5l0 3l0.5-3l0.5-17l0 20.5l1-15l0.5 4.5l0.5 24l0.5-43.5l0-13l0.5 71l1-31.5l0.5-15l0 81.5l1-41.5l0 1.5l0.5-8l0.5-6l0.5 12.5l0.5-5l0 46l0.5-44.5l1 26l0.5-68l0 93l0.5-93.5l0.5 54l0.5-4l0.5 3l0-32l0.5 15l0.5 46l1-62.5l0 23.5l0.5 8l1.5-11l0.5-15l0.5-19l0 45l0 7l0-62l1 14l0-6.5l0 28l0.5 30l0.5-72l0 2l0 49l0-27l0-18l0-37l0 86.5l0.5-35.5l0 20.5l0.5 6l0-10.5l0 76.5l0.5-95l0.5 13l0 10l1 20.5l0-29.5l0.5 11.5l0.5-19l0.5 35.5l1-43l0 21l1-54l0 94l0.5-95.5l0.5-25l0.5 77.5l0.5-55l0 24l0.5 62l1-17.5l0-42l0.5 18.5l0.5-15l0 12l1.5-27.5l2 45l0 21.5l0.5-10.5l0-16.5l0 23l0.5-23l0 4.5l1 3l0.5-7l0 9l0-36.5l0 23.5l0.5-17.5l0.5 58.5l0.5-39l1 60.5l1-8l1-106l0.5 89.5l0.5-57l0 2l2-11l0 42.5l0 56.5l0.5-85l0.5 19.5l0-20l0.5 21.5l1-38.5l0.5 20.5l0 23l0.5-73.5l0.5 80l0.5 42l0.5-61l0.5-9.5l0-2.5l0.5 29.5l0-14l0 22l0-11.5l0.5-28.5l0 91.5l1.5-93l0 25.5l1.5-9l0 11l0.5-39l0.5 27.5l0 24l0.5 18l1-70.5l0 24.5l1 35.5l0-8l0 7.5l1-63.5l1.5 31l1 43l0-60l0.5 31l0.5-38l1 32.5l0.5-11.5l0 62l0.5-50.5l0 8.5l0.5 9.5l1-26l0 39.5l0-26.5l0.5 61l0-62l0.5 13l0-65l0.5 41.5l0-11l0.5 94l0.5-66.5l0 19.5l1-66l1 9.5l0 22.5l0.5-1l0.5 1.5l0 4.5l0-19l0.5 1.5l0.5 20l0.5 15.5l0-62.5l1 100.5l0-38l0.5-81.5l0 59l0.5 6.5l1 32.5l0-8.5l0-64.5l0 45l0.5-39.5l0.5 59.5l0.5-51l1 17.5l0 15l0 80l1.5-127l0 72.5l1-36.5l0.5-24.5l0 50.5l0.5-15.5l0.5-33l1 6.5l0.5-1.5l0 34l1-13.5l0-16.5l0 25.5l0.5-50l0.5 14.5l2-15.5l1 77.5l0.5-81.5l0.5 54.5l0 7.5l1-13l0-45.5l0.5 25.5l0 1.5l0.5-17l0-1l0-2l1 66l0.5-43.5l1-5.5l0.5 50.5l0.5-32.5l1.5 55l0-56.5l2.5-5l0 23l0-6l0-42l0.5 37.5l1.5-10l0-5l0-3l0-16l0 13l0.5 37l0.5-55.5l1 36.5l0-26l0 33l0.5-2l1-27l0 33l0.5 53.5l0-63.5l0.5-40.5l1 61l0-42l0.5 25.5l1 30.5l0.5-31.5l0 52.5l0-93l0 42.5l0-20.5l0.5 10.5l0 39.5l0-29l0.5-42l0 10l0.5 31.5l0 9.5l1.5-17l0 32.5l0.5-41.5l0.5 81.5l0.5-1.5l0.5-95.5l0 22.5l0.5 17.5l0.5-21.5l1.5 11l1-13.5l0-22l0.5 31.5l0 42.5l0.5-56.5l0 32.5l0.5-52l0.5 4.5l0 26.5l0.5-12.5l0 51l0.5 7.5l0-37.5l0-18l1-27l0.5 54l0.5 47l1.5-42.5l0-2.5l0-24.5l1 42.5l0-58l0.5 55l0-59l0.5 27.5l0-6l0.5 46.5l0-51.5l0.5 58.5l0.5-73.5l0 39.5l0.5-23.5l0-7l0-11l0.5-11l0.5 38l0.5-22l0 36l0 13.5l0.5-49.5l0.5 11l0 22.5l0-12.5l1.5-26.5l0.5 1l1 72l0-13l1 16l0.5-38.5l1-4l1.5 27l0-63.5l0.5-22l0 70.5l0-40l1 22.5l0-18l2 10.5l1 7l1.5 10l0-31l0.5 29.5l0-24l0 29l0-15l0-17l0.5 3.5l0 53.5l0-56.5l0 102l0-92.5l0-13l0.5 58.5l1.5-11l1-50l0.5 13l0 63.5l1.5-80.5l0 99.5l0.5-43l0-38l0.5 24l0-18l1-6l0-57.5l0.5 40l0.5 17.5l0.5 34l0-36l0-4l1 29.5l0-30l0 32l0.5-3.5l0 44.5l0-86.5l0 5l0 101l0-111l0.5 30.5l0-0.5l0-36.5l1 58l0.5 8.5l0 25l0.5-21.5l0.5-53l0 43.5l0 6l0.5-38l0.5 37.5l0-7l0.5 1.5l0.5-32l0.5 29l0-5l1.5-8l0 44l0.5-42.5l1 41.5l1-16l0-19l1-16l0.5 10l0.5-34.5l0.5 25l0-12l0.5 27.5l0.5 4.5l0.5-61.5l0.5 88.5l0-75l0.5 51l0.5-37.5l0 52l0.5-47.5l0 57l0.5 12.5l0.5-39l0.5-34.5l0-10l1 19.5l0.5 23l1-14l0 33.5l0.5-8.5l0.5-32.5l1 6.5l0.5-19l0 14l0-11l0.5 18.5l0-19l0.5-49l0.5 91l0.5-29.5l0.5 16l0-26l0.5 1l0.5 34l0.5-26l1-1.5l0 8.5l0.5-11.5l0-28.5l0 20.5l1 23.5l0.5-13.5l0.5-47l0 69.5l1.5-46l1 47.5l0.5 25l1-24.5l0-27.5l0 15.5l2 12.5l2 2.5l1 4.5l0.5 3l1-12.5l0 50.5l1.5-78l0.5 4l0.5 5l0.5-21.5l0 40l1-15.5l0.5 69l0.5-74.5l1.5 16l1.5-27l0.5-6.5l0.5 27.5l0 29l0.5-42.5l0.5-13.5l1-2l0.5 38.5l0.5 10.5l0.5-17l0 20.5l0.5 29.5l0-67l0.5-2l0-5.5l0 40l1-21.5l0 31.5l1 7l1.5-52l0 61l0-39.5l0.5-72l0 30.5l0.5 14.5l0.5 2l0.5 21.5l0 10.5l1-70l0.5 59l0.5 10.5l1-33.5l1 19.5l0.5-36.5l0.5 51.5l0 5.5l1.5-11.5l0.5-53.5l0.5 18l0.5 53.5l0.5-31.5l0-6.5l1 35l0-39.5l1.5 26.5l2.5-19.5l0.5 6l0.5-8l0 20.5l0-37.5l0.5 15.5l0.5 30.5l0.5-32.5l0 21l0.5-19.5l0-12.5l1.5 36l1-12.5l0.5-2.5l0 0.5l0.5-53l0 45l0.5 39.5l0.5-33.5l1.5 18l0-80l0 82l0.5 13l1.5-49.5l0.5 33.5l0.5-3.5l0-4l0 11.5l1-7l0.5 48l0-56l0.5-20l1-33l0 48l0-20l0.5 41.5l0-58.5l0-21l0.5 51l1 18l0-10.5l0-40.5l0 75l1-67.5l1.5 61l1-4.5l0.5-29.5l0-10l1-8.5l0-12.5l0 68.5l0.5-32l0-19l0.5 13.5l0-23l1 29.5l0 9l1 52l0-9.5l0.5-71.5l0 52l0.5-39l0-9.5l1 21l0.5-30.5l0 44.5l0-33l0 19l1.5 36.5l0.5 14l0-48.5l0-49l0.5 12.5l0.5 18.5l1 27.5l1-38.5l1 31l0-42l0 28l0 21l0.5-117.5l0.5 86l0 21l0.5-24l1 53.5l0 0.5l0.5-85l1 35l0 46l0.5 15l0.5-41l0.5 25.5l0.5-63.5l0 87.5l0-85l0 112.5l0.5-45.5l0.5-34.5l0 35.5l0.5-18.5l1-0.5l0.5 50.5l0.5-33.5l0-41.5l0.5 66l0.5-19.5l0-12l0.5-49.5l0.5 0l1-15.5l0.5 66.5l1-48l0.5 15.5l0 42l1-49.5l0.5 14.5l0 18l0.5 11.5l1 14.5l0-57.5l0 47.5l0-26l0.5 63.5l0-55l0.5-37.5l0.5 15.5l0.5 54l0-51l0-10.5l2.5 29.5l0-3l0.5 3l0.5-33.5l0 28.5l0-10.5l0.5-3l1-40l1 84l0-105.5l1 97l0.5-27l0 16.5l0.5-26l0.5-11.5l0-5.5l0-12l1 51.5l0-25l0 3l1 21.5l0-34.5l1 33l1-4.5l0.5 7l0-38.5l0.5 22.5l0.5-36l0.5 9l0.5 57l0.5 25l0-59l0 19.5l1.5 10l0.5-8.5l0-60l0.5 46.5l0-59l0 31l1.5 70l0.5-60.5l0-75l0.5 136.5l0-14l0-32l0.5 12l0-62l0.5 70.5l0-88l0.5 103l0.5 25.5l0.5-73.5l0.5-5l1 10l1-40l0.5-6l0-4.5l1 57.5l0-27l0.5 73.5l0-89l1 104.5l0-46.5l0.5-12l0.5 7.5l0.5-58l0 83l0 27l0.5-32l0-32.5l0 24.5l0.5-51.5l0.5 1l0.5 96.5l0 8l0.5-102l0 12l1 55l0.5-13l0 3.5l2-57l1 59.5l0.5 41.5l1-62.5l0.5-17l0-28l1 17.5l0 53.5l0.5-48.5l1 38.5l0-72l0-4l0.5 12.5l0.5-29.5l1 39l0.5-18.5l1 14.5l0.5 2l0 0.5l0.5 16l0.5-42.5l0.5 81.5l0 13.5l0-22.5l0-66l0.5 52l1-14.5l0.5 31l1.5-37l1.5 15l0.5-35.5l0 43l0.5-35l0 50l0-39.5l0.5-70l0.5 119l0.5-30l0-31l3.5 55.5l2-15l0 2.5l0-22.5l0.5 46l0-79l0.5 36.5l0-1.5l1.5 10l0-3.5l0 71l0.5-108l0 60.5l0-48l0.5 27.5l0.5 2l0-20l1.5-33.5l0.5 50l0 14l1-29.5l0 83l0.5-45.5l0 3.5l0-17.5l0.5 54.5l0.5-89l0 33l0.5-1l0.5-8.5l0.5 9.5l0 9.5l0.5-55l0.5 13l0-18.5l1.5 46.5l0-12.5l0.5-22.5l0 75.5l0.5-44l0 45l0.5-12.5l0.5-7.5l0 6.5l0 17.5l0.5-60l0.5-1.5l0 19l0-36l1 2.5l0 10l0.5 25.5l0-2.5l0.5 27l0 12.5l0.5 33l0.5-113.5l0.5 92l1.5-41l0.5-3l0.5-7.5l0 22l0 31l1.5-46l0-14.5l0-38.5l1 40l1-16.5l0.5 97l0.5-98.5l0.5 29l3-28.5l0.5 11l0 86l1-80.5l0-4l0 24.5l0.5-17l0-29.5l1 36l0-11.5l0 66.5l1-86l1-31l0 59l0 18l0-33l0.5 2.5l0.5-19.5l0.5 43.5l0-68l1 23.5l0.5 55.5l1-59l0.5 33.5l0-23.5l0.5 9.5l0.5 9l0-7.5l0.5 21l1.5 9l0.5-14.5l0 1.5l0 35.5l0.5-49l0.5 51.5l0-70l0.5 25l0-25.5l3 114.5l0-98l0.5-8.5l0 57.5l0-85.5l0.5-11l0.5 37l1.5 33l0-34.5l0 29.5l0.5-56.5l1 59l0.5 21l0-10l1-2l0.5-42l0.5 22l1-9.5l0.5 17.5l0-47.5l1 37.5l0-59.5l0 15l1.5 36.5l0 23.5l0.5-8l0.5-40l0 22l0.5 33l0-56l0.5 75.5l0 20l0.5-33.5l0 26l0-48.5l0.5-6.5l0.5 8.5l1 9l1 58.5l0-74l0 55.5l0.5-77.5l0 13.5l0 9.5l0-15l0.5 57.5l0-72.5l1 13.5l0.5-17.5l0.5 59l0-34l0 11l1.5 62.5l0.5-56.5l0.5-11.5l0.5 24.5l0.5-34l1-5l0.5 29l0.5 33.5l0.5-68.5l0 50.5l1-42.5l0-24l0 39l1-11.5l0 10l0-23l0.5 97l0.5-24l0-24.5l0.5-7l0-46l0.5-11.5l1.5 23l0-19.5l0 48l0.5 4l0.5 29l0-78l0.5 18l1 16.5l0.5 38l0.5-9.5l1-43.5l0 14l0.5-32l0 26.5l0.5 26l0.5 14l0-34.5l1.5-47.5l2-10l0.5 79l0.5-36.5l0.5 36l1-28.5l1 90l0-64l1 53.5l1-114l0.5 53.5l1-24.5l0.5 12.5l0.5 39.5l1.5-57l0 51.5l0.5-40l0-9.5l0.5-16l0.5 125l0.5-89.5l1 44l0-22.5l0.5-2.5l1-44.5l0-17l0.5 38.5l1.5-28.5l0 112l0.5-91l0.5 5.5l0-25l0.5-60l0.5 54.5l0 9.5l0.5-10.5l0.5-19l0.5 67.5l0-61.5l0.5 55.5l0 30.5l0-58l0.5-4.5l0 12.5l0 28l0.5-36.5l0 55l0-109l0.5 61.5l0.5-2l1 27l0-32.5l0-31.5l0.5 70l0.5-10.5l0 45.5l0-53.5l1-49.5l0 82.5l0-23.5l0.5 10.5l0-13.5l0.5 14.5l0.5-12l0-7.5l0-9l0-22l1.5 6l0.5 77l0-93.5l0.5 17.5l0-12l0.5 59l0.5-8.5l0.5-37l1-31.5l0.5 79l0 9.5l1-50l0.5 23l0-20.5l1 25l0.5-52.5l0.5 122.5l0-94l0.5 24l0-13l0.5 25l0 44l0-115.5l0 23.5l1 9l1 13l0.5-10l0 18l0.5-12.5l0 27.5l0.5-6l0.5 7l0-80l0.5 69l0.5-21l0.5 11.5l2.5-22.5l1-1.5l1.5 15.5l0 32l0.5 63l0.5-93.5l1-51.5l0.5 66l0-9.5l0-16.5l0 30.5l0.5-23.5l2.5 10l0.5-26.5l0-25.5l0.5 58l0.5-18l0-4.5l0 8.5l2.5 4.5l0.5 63.5l0.5-9l0-22.5l0.5-18.5l0.5-25.5l0.5-4l0 30l0.5 0.5l0.5-5l0.5 22.5l0.5-76.5l0-6l0 57l1.5-53l0.5 24.5l0 55l1-59l0.5 7.5l0 15l0 47.5l0-25l0 50l0.5-67l0.5 8l0 24.5l0.5 4l0.5-76.5l0.5 84l0.5-66l0.5 18.5l2.5-33.5l0.5 84.5l0.5-51l1.5-34l0 42l1.5 37l0.5 16l1-37l0 11l0-77.5l0.5 43.5l0-24.5l0-3.5l0 12l0.5 42.5l0.5-46l0 51l0.5-33l0.5-20.5l1.5 25.5l0 1.5l0-37l0.5-11.5l0 16l1.5 30.5l1-11l0 8.5l0.5-51l0.5 30l0.5 21.5l0.5-0.5l0.5-68l0 61l0.5 3l2 33.5l0-40.5l0.5 15l0-12l0.5-21.5l0 7.5l0.5 1l0.5 36.5l0.5 33l0.5-36.5l0.5-11l0-6l0.5-34.5l1 31.5l0.5-34l0 54.5l0.5 20.5l0.5-58l0 59l0 13.5l0.5-30l0 12.5l1-62l1 32.5l0-26.5l3 27.5l0.5 48l0.5-16l0.5 17l0-43.5l0 68l0-31.5l0.5-17.5l0.5-51.5l0.5 11l1 27l0-17l0.5 13l0.5-88.5l0 131l1 11l0-3l0.5-15l0-31.5l0-8.5l0 5l0 1l0.5-3l2-10.5l0 88l0.5-100.5l0.5 2l1 9.5l0-9l0-0.5l1-6.5l0 49l0-39.5l0.5 60l0 28.5l0-101l0.5 14.5l0-2l0.5 3.5l0-14.5l0.5 103.5l0.5-61.5l0.5-10l0 74l0-90l0.5 26.5l1-26l0 5.5l0.5-65l0 66l0.5 1.5l0-35.5l1-17.5l0 80.5l0 2.5l0 66.5l1-73.5l0-47.5l0 32.5l0.5-27l0.5 61l0.5-7.5l0.5-80l0 83l1-32.5l0.5-23.5l1.5 9.5l2.5 42l0.5-15l0.5-35l0 30.5l0.5-62l0.5 53l0.5-58l1 54.5l0-37l2 23.5l0.5 11l0.5 42.5l0.5-57.5l0.5-39.5l0 46.5l0.5 26.5l0 38.5l0 17l0-68l0.5-30.5l0.5 37.5l0.5 23l0.5-8l0.5 9.5l0.5 14.5l1-37.5l0 8.5l0-8.5l0-67.5l0.5 28l0-15l0.5 42.5l0.5-7.5l1 32l0 28.5l0.5 12.5l0-54l0.5-25l0.5 5.5l0.5 10.5l0 43.5l0-34l1-26.5l0 49.5l1-20l1-29.5l2 11.5l1.5-10l0.5 11.5l0.5 2l1.5-41.5l0.5 14l0 19l0-8l1.5-2l1.5 19l0.5-14l0 6l1.5-70.5l0.5 69l0-5l0.5-52l2 92l0.5-31.5l0-34.5l0 31.5l0.5 7.5l0 23.5l0-25.5l0 22l0.5-53l1.5 14.5l0 26l1-43.5l0 65l1-4.5l0.5-48.5l0.5 14l0.5 43l0.5-12l1.5-15.5l0 12.5l0.5-25.5l0.5 9.5l0-18l0.5 62.5l0.5-58.5l0 23.5l0-24.5l0.5 1.5l0-11l0 11l0 22l0.5-10l0-40.5l1.5 46.5l1-9.5l1.5-46l0.5 28.5l0.5 63l1-17l0 0l1-35l0-55.5l0 118l0.5-3.5l1 38l0.5-96.5l0 37.5l2.5-56.5l0 21.5l0.5 20l0.5-12l0 66l0-77.5l0.5 30.5l0 13l1.5-12.5l0.5-32.5l0-23" fill="none" stroke="#0000e6" stroke-width="2" marker-start="url(#ms)" marker-mid="url(#ms)" marker-end="url(#ms)"/>


<line x1="696.4" y1="12.6" x2="696.4" y2="757.3" stroke="#ed7d31" stroke-width="5" stroke-dasharray="19.5 15.04"/>
<line x1="198" y1="604.4" x2="1038" y2="607.6" stroke="#70ad47" stroke-width="5.4" stroke-dasharray="17.5 6.1"/>

<rect x="265" y="86" width="500.5" height="133" fill="#fff" stroke="#000" stroke-width="2"/>
<line x1="286" y1="117.2" x2="366" y2="117.2" stroke="#ff0000" stroke-width="1.9"/><circle cx="324.6" cy="116.9" r="4.3" fill="none" stroke="#ff0000" stroke-width="2.1"/>
<text y="140.7" fill="#ff0000" style="font-family:'Liberation Serif',serif"><tspan x="367" style="font-size:31px" dy="-13.7">18</tspan><tspan style="font-size:47px" dy="13.7">O</tspan><tspan style="font-size:31px" dy="-14">-</tspan><tspan style="font-size:47px" dy="14">/</tspan><tspan style="font-size:31px" dy="-13.7">16</tspan><tspan style="font-size:47px" dy="13.7">O</tspan><tspan style="font-size:31px" dy="-14">-</tspan></text>
<text x="543" y="140.7" fill="#ff0000" style="font-family:'Liberation Serif',serif;font-size:37.5px">:</text><text x="561" y="140.7" fill="#ff0000" style="font-family:'Liberation Serif',serif;font-size:37.5px">position #2</text>
<line x1="286" y1="165.8" x2="366" y2="165.8" stroke="#0000ff" stroke-width="1.9"/><path transform="translate(317.5,158.4)" d="M0.2 2.25H11.8M11.3 0.5V10.9M1.7 11.4H13.8M2.2 2V14.6" fill="none" stroke="#0000ff" stroke-width="2.1"/>
<text y="190.7" fill="#0000ff" style="font-family:'Liberation Serif',serif"><tspan x="367" style="font-size:31px" dy="-13.7">18</tspan><tspan style="font-size:47px" dy="13.7">O</tspan><tspan style="font-size:31px" dy="-14">-</tspan><tspan style="font-size:47px" dy="14">/</tspan><tspan style="font-size:31px" dy="-13.7">16</tspan><tspan style="font-size:47px" dy="13.7">O</tspan><tspan style="font-size:31px" dy="-14">-</tspan></text>
<text x="543" y="190.7" fill="#0000ff" style="font-family:'Liberation Serif',serif;font-size:37.5px">:</text><text x="561" y="190.7" fill="#0000ff" style="font-family:'Liberation Serif',serif;font-size:37.5px">position #4</text>


<text x="771" y="344" fill="#c55a11" style="font-family:'Liberation Serif',serif;font-size:42px">Interface</text>
<line x1="829" y1="349.3" x2="718" y2="441" stroke="#ed7d31" stroke-width="1.3"/>
<path d="M709.4 448.9 L713.5 436 L722 446 Z" fill="#ed7d31"/>
<text x="210" y="730.3" fill="#00b050" style="font-family:'Liberation Serif',serif;font-size:41.5px">Natural isotope ratio</text>
<line x1="558" y1="717.3" x2="597.5" y2="616" stroke="#12a040" stroke-width="1.1"/>
<path d="M601 606.6 L591.5 615.3 L601.7 619 Z" fill="#12a040"/>

<g style="font-family:'Liberation Serif',serif;font-size:48px" fill="#000"><text x="180" y="774" text-anchor="end">0</text><text x="180" y="626" text-anchor="end">0.002</text><text x="180" y="477.9" text-anchor="end">0.004</text><text x="180" y="329.9" text-anchor="end">0.006</text><text x="180" y="181.8" text-anchor="end">0.008</text><text x="178.5" y="33.8" text-anchor="end">0.01</text><text x="197" y="820" text-anchor="middle">0</text><text x="363.3" y="820" text-anchor="middle">50</text><text x="529.6" y="820" text-anchor="middle">100</text><text x="695.9" y="820" text-anchor="middle">150</text><text x="862.2" y="820" text-anchor="middle">200</text><text x="1028.5" y="820" text-anchor="middle">250</text></g><text x="618" y="880.5" text-anchor="middle" style="font-family:'Liberation Serif',serif;font-size:47px">Depth(nm)</text><g transform="translate(36.6,460.8) rotate(-90) scale(0.985,1)" style="font-family:'Liberation Serif',serif"><text x="-3.3" y="0" style="font-size:48px"><tspan style="font-size:31.5px" dy="-14.2">18</tspan><tspan dy="14.2">O</tspan><tspan style="font-size:31.5px" dy="-14.2">-</tspan><tspan dy="14.2">/</tspan><tspan style="font-size:31.5px" dy="-14.2">16</tspan><tspan dy="14.2">O</tspan><tspan style="font-size:31.5px" dy="-14.2">-</tspan></text></g>
<defs><filter id="spk" x="1080" y="20" width="420" height="740" filterUnits="userSpaceOnUse">
<feTurbulence type="fractalNoise" baseFrequency="0.28" numOctaves="1" seed="5"/>
<feColorMatrix type="matrix" values="0 0 0 0 1  0 0 0 0 1  0 0 0 0 1  16 0 0 0 -10.5"/></filter>
<filter id="grain" x="1080" y="20" width="420" height="740" filterUnits="userSpaceOnUse">
<feTurbulence type="fractalNoise" baseFrequency="0.35" numOctaves="2" seed="9"/>
<feColorMatrix type="matrix" values="0 0 0 0 1  0 0 0 0 1  0 0 0 0 1  2 0 0 0 -1"/></filter>
<filter id="sblur" x="1070" y="15" width="440" height="760" filterUnits="userSpaceOnUse"><feGaussianBlur stdDeviation="0.9"/></filter>
<pattern id="hs1" width="40" height="7" patternUnits="userSpaceOnUse"><rect y="0" width="40" height="2.2" fill="#fff" opacity="0.12"/></pattern>
<pattern id="hs2" width="40" height="11" patternUnits="userSpaceOnUse" y="3"><rect y="0" width="40" height="2.5" fill="#000" opacity="0.15"/></pattern></defs><g>
<clipPath id="c1"><rect x="1082.5" y="24.8" width="413.5" height="312.8"/></clipPath>
<rect x="1082.5" y="24.8" width="413.5" height="332.2" fill="#3d3d3d"/>
<g clip-path="url(#c1)"><path d="M1082.5 24.8L1166 24.8L1166 36.6L1082.5 36.6Z" fill="#272727"/><path d="M1166 24.8L1230 24.8L1230 36.6L1166 36.6Z" fill="#383838"/><path d="M1230 24.8L1316 24.8L1333 39L1309 36.6L1230 36.6Z" fill="#4e4e4e"/><path d="M1082.5 36.6L1107 36.6L1107 92.5L1082.5 92.5Z" fill="#333333"/><path d="M1082.5 92.5L1128 92.5L1114 108L1082.5 129Z" fill="#424242"/><path d="M1082.5 129L1114 108L1128 100L1143 115L1145 134L1147 190L1139 218L1101 185L1082.5 185Z" fill="#343434"/><path d="M1082.5 185L1101 185L1139 218L1133 224L1082.5 191Z" fill="#2d2d2d"/><path d="M1128 100L1143 100L1179 134L1192 153L1194 190L1158 210L1151 185L1147 190L1145 134L1143 115Z" fill="#464646"/><path d="M1128 92.5L1158 92.5L1187 127L1179 134L1143 100L1128 100Z" fill="#252525"/><path d="M1158 92.5L1194 92.5L1213 123L1187 127Z" fill="#4e4e4e"/><path d="M1181 127L1211 127L1213 144L1194 155L1183 138Z" fill="#1d1d1d"/><path d="M1194 92.5L1242 92.5L1213 123Z" fill="#2d2d2d"/><path d="M1194 155L1213 144L1229 153L1236 172L1232 190L1194 190Z" fill="#424242"/><path d="M1309 36.6L1333 39L1344 92L1327 108L1309 92.5Z" fill="#525252"/><path d="M1316 24.8L1466 24.8L1468 31L1455 83L1445 104L1413 106L1373 93L1344 92L1333 39Z" fill="#4b4b4b"/><path d="M1478 24.8L1496 24.8L1496 115L1445 104L1460 83Z" fill="#484848"/><path d="M1466 24.8L1478 24.8L1460 83L1448 106L1440 104L1455 60Z" fill="#626262"/><path d="M1413 106L1445 104L1496 115L1496 190L1401 190L1411 153Z" fill="#333333"/><path d="M1101 185L1117 185L1150 214L1139 218Z" fill="#393939"/><path d="M1117 185L1151 185L1158 210L1150 214Z" fill="#252525"/><path d="M1082.5 191L1133 224L1129 244L1139 275L1127 307L1098 322L1082.5 318Z" fill="#393939"/><path d="M1133 224L1158 210L1182 230L1202 260L1194 273L1139 275L1129 244Z" fill="#393939"/><path d="M1158 210L1182 193L1196 195L1196 224L1182 230Z" fill="#525252"/><path d="M1151 185L1231 185L1231 209L1196 212L1196 195L1182 193L1158 210Z" fill="#424242"/><path d="M1196 212L1231 209L1231 246L1217 252L1202 260L1196 224Z" fill="#191919"/><path d="M1231 185L1290 185L1290 242L1276 244L1233 238L1231 209Z" fill="#313131"/><path d="M1233 238L1276 244L1290 250L1290 262L1276 267L1231 246Z" fill="#565656"/><path d="M1202 260L1231 246L1276 267L1276 283L1257 313L1241 334L1217 334L1194 283L1194 273Z" fill="#3d3d3d"/><path d="M1139 275L1194 273L1194 283L1217 334L1217 337.6L1123 337.6L1127 307Z" fill="#2a2a2a"/><path d="M1276 283L1290 287L1290 337.6L1241 337.6L1257 313Z" fill="#424242"/><path d="M1082.5 318L1098 322L1127 307L1123 337.6L1082.5 337.6Z" fill="#313131"/><path d="M1290 185L1306 185L1306 234L1290 242Z" fill="#313131"/><path d="M1287 244L1306.6 234L1369 234L1361.6 253.7L1351.8 302.8L1324.3 302.8L1287 291Z" fill="#484848"/><path d="M1373 191L1385 205L1401 244L1401 303L1375 322L1352 307L1361.6 254L1369 234Z" fill="#1d1d1d"/><path d="M1377 185L1434 185L1450 220L1403 242L1385 205Z" fill="#424242"/><path d="M1403 242L1450 220L1464 244L1460 283L1450 305L1401 303Z" fill="#393939"/><path d="M1434 185L1496 185L1496 310L1450 305L1460 283L1464 244L1450 220Z" fill="#2b2b2b"/><path d="M1287 291L1324 303L1352 307L1375 322L1371 337.6L1287 337.6Z" fill="#424242"/><path d="M1375 322L1401 303L1450 305L1455 337.6L1371 337.6Z" fill="#4e4e4e"/><path d="M1450 305L1496 310L1496 337.6L1455 337.6Z" fill="#393939"/><path d="M1209.5 123.9L1241 94.3L1261 93.3L1289.6 123.9L1306.8 135.3L1316.3 152.4L1306.8 160L1282 150.5L1257.2 158.2L1234.3 169.6L1230.5 163.9L1224.8 146.7Z" fill="#4f4f4f"/><path d="M1261 92.5L1341 92.5L1341 97.2L1325.8 108.6L1306.8 135.3L1289.6 123.9Z" fill="#4e4e4e"/><path d="M1306.8 135.3L1325.8 108.6L1341 97.2L1413.5 106.7L1409.7 150.5L1400.2 162L1394.5 183L1367.8 186.8L1367.8 169.6L1318.2 169.6L1316.3 152.4Z" fill="#464646"/><path d="M1316.3 169.6L1367.8 169.6L1367.8 186.8L1383 194.4L1373 191L1369 234L1299 234L1308.7 202L1314.4 186.8Z" fill="#484848"/><path d="M1234.3 169.6L1257.2 158.2L1282 150.5L1306.8 160L1316.3 175.3L1314.4 186.8L1308.7 202L1299.1 224.9L1289.6 244L1238.1 224.9L1234.3 194.4Z" fill="#222222"/><path d="M1166 24.8L1166 36.6M1230 24.8L1230 36.6M1166 36.6L1166 24.8M1316 24.8L1333 39M1333 39L1309 36.6M1230 36.6L1230 24.8M1107 36.6L1107 92.5M1128 92.5L1114 108M1114 108L1082.5 129M1082.5 129L1114 108M1114 108L1128 100M1128 100L1143 115M1143 115L1145 134M1145 134L1147 190M1147 190L1139 218M1139 218L1101 185M1101 185L1139 218M1139 218L1133 224M1133 224L1082.5 191M1128 100L1143 100M1143 100L1179 134M1179 134L1192 153M1192 153L1194 190M1194 190L1158 210M1158 210L1151 185M1151 185L1147 190M1147 190L1145 134M1145 134L1143 115M1143 115L1128 100M1158 92.5L1187 127M1187 127L1179 134M1179 134L1143 100M1143 100L1128 100M1128 100L1128 92.5M1194 92.5L1213 123M1213 123L1187 127M1187 127L1158 92.5M1181 127L1211 127M1211 127L1213 144M1213 144L1194 155M1194 155L1183 138M1183 138L1181 127M1242 92.5L1213 123M1213 123L1194 92.5M1194 155L1213 144M1213 144L1229 153M1229 153L1236 172M1236 172L1232 190M1194 190L1194 155M1309 36.6L1333 39M1333 39L1344 92M1344 92L1327 108M1327 108L1309 92.5M1309 92.5L1309 36.6M1466 24.8L1468 31M1468 31L1455 83M1455 83L1445 104M1445 104L1413 106M1413 106L1373 93M1344 92L1333 39M1333 39L1316 24.8M1496 115L1445 104M1445 104L1460 83M1460 83L1478 24.8M1478 24.8L1460 83M1460 83L1448 106M1448 106L1440 104M1440 104L1455 60M1455 60L1466 24.8M1413 106L1445 104M1445 104L1496 115M1401 190L1411 153M1411 153L1413 106M1117 185L1150 214M1150 214L1139 218M1139 218L1101 185M1151 185L1158 210M1158 210L1150 214M1150 214L1117 185M1082.5 191L1133 224M1133 224L1129 244M1129 244L1139 275M1139 275L1127 307M1127 307L1098 322M1098 322L1082.5 318M1133 224L1158 210M1158 210L1182 230M1182 230L1202 260M1202 260L1194 273M1194 273L1139 275M1139 275L1129 244M1129 244L1133 224M1158 210L1182 193M1182 193L1196 195M1196 195L1196 224M1196 224L1182 230M1182 230L1158 210M1231 185L1231 209M1231 209L1196 212M1196 212L1196 195M1196 195L1182 193M1182 193L1158 210M1158 210L1151 185M1196 212L1231 209M1231 209L1231 246M1231 246L1217 252M1217 252L1202 260M1202 260L1196 224M1196 224L1196 212M1290 242L1276 244M1276 244L1233 238M1233 238L1231 209M1231 209L1231 185M1233 238L1276 244M1276 244L1290 250M1290 262L1276 267M1276 267L1231 246M1231 246L1233 238M1202 260L1231 246M1231 246L1276 267M1276 267L1276 283M1276 283L1257 313M1257 313L1241 334M1241 334L1217 334M1217 334L1194 283M1194 283L1194 273M1194 273L1202 260M1139 275L1194 273M1194 273L1194 283M1194 283L1217 334M1217 334L1217 337.6M1123 337.6L1127 307M1127 307L1139 275M1276 283L1290 287M1241 337.6L1257 313M1257 313L1276 283M1082.5 318L1098 322M1098 322L1127 307M1127 307L1123 337.6M1306 185L1306 234M1306 234L1290 242M1287 244L1306.6 234M1306.6 234L1369 234M1369 234L1361.6 253.7M1361.6 253.7L1351.8 302.8M1351.8 302.8L1324.3 302.8M1324.3 302.8L1287 291M1373 191L1385 205M1385 205L1401 244M1401 244L1401 303M1401 303L1375 322M1375 322L1352 307M1352 307L1361.6 254M1361.6 254L1369 234M1369 234L1373 191M1434 185L1450 220M1450 220L1403 242M1403 242L1385 205M1385 205L1377 185M1403 242L1450 220M1450 220L1464 244M1464 244L1460 283M1460 283L1450 305M1450 305L1401 303M1401 303L1403 242M1496 310L1450 305M1450 305L1460 283M1460 283L1464 244M1464 244L1450 220M1450 220L1434 185M1287 291L1324 303M1324 303L1352 307M1352 307L1375 322M1375 322L1371 337.6M1375 322L1401 303M1401 303L1450 305M1450 305L1455 337.6M1371 337.6L1375 322M1450 305L1496 310M1455 337.6L1450 305M1209.5 123.9L1241 94.3M1241 94.3L1261 93.3M1261 93.3L1289.6 123.9M1289.6 123.9L1306.8 135.3M1306.8 135.3L1316.3 152.4M1316.3 152.4L1306.8 160M1306.8 160L1282 150.5M1282 150.5L1257.2 158.2M1257.2 158.2L1234.3 169.6M1234.3 169.6L1230.5 163.9M1230.5 163.9L1224.8 146.7M1224.8 146.7L1209.5 123.9M1341 92.5L1341 97.2M1341 97.2L1325.8 108.6M1325.8 108.6L1306.8 135.3M1306.8 135.3L1289.6 123.9M1289.6 123.9L1261 92.5M1306.8 135.3L1325.8 108.6M1325.8 108.6L1341 97.2M1341 97.2L1413.5 106.7M1413.5 106.7L1409.7 150.5M1409.7 150.5L1400.2 162M1400.2 162L1394.5 183M1394.5 183L1367.8 186.8M1367.8 186.8L1367.8 169.6M1367.8 169.6L1318.2 169.6M1318.2 169.6L1316.3 152.4M1316.3 152.4L1306.8 135.3M1316.3 169.6L1367.8 169.6M1367.8 169.6L1367.8 186.8M1367.8 186.8L1383 194.4M1383 194.4L1373 191M1373 191L1369 234M1369 234L1299 234M1299 234L1308.7 202M1308.7 202L1314.4 186.8M1314.4 186.8L1316.3 169.6M1234.3 169.6L1257.2 158.2M1257.2 158.2L1282 150.5M1282 150.5L1306.8 160M1306.8 160L1316.3 175.3M1316.3 175.3L1314.4 186.8M1314.4 186.8L1308.7 202M1308.7 202L1299.1 224.9M1299.1 224.9L1289.6 244M1289.6 244L1238.1 224.9M1238.1 224.9L1234.3 194.4M1234.3 194.4L1234.3 169.6" fill="none" stroke="#c8c8c8" stroke-opacity="0.6" stroke-width="1.8" stroke-linecap="round"/><path d="M1413 106L1445 104L1496 115L1496 190L1401 190L1411 153Z" fill="url(#hs1)"/><path d="M1413 106L1445 104L1496 115L1496 190L1401 190L1411 153Z" fill="url(#hs2)"/><path d="M1434 185L1496 185L1496 310L1450 305L1460 283L1464 244L1450 220Z" fill="url(#hs1)"/><path d="M1434 185L1496 185L1496 310L1450 305L1460 283L1464 244L1450 220Z" fill="url(#hs2)"/><path d="M1196 212L1231 209L1231 246L1217 252L1202 260L1196 224Z" fill="url(#hs1)"/><path d="M1196 212L1231 209L1231 246L1217 252L1202 260L1196 224Z" fill="url(#hs2)"/><path d="M1158 92.5L1194 92.5L1213 123L1187 127Z" fill="url(#hs1)"/><path d="M1158 92.5L1194 92.5L1213 123L1187 127Z" fill="url(#hs2)"/><path d="M1309 172L1366 172L1366 231L1309 231Z" fill="url(#hs1)"/><path d="M1309 172L1366 172L1366 231L1309 231Z" fill="url(#hs2)"/><path d="M1139 275L1194 273L1194 283L1217 334L1217 337.6L1123 337.6L1127 307Z" fill="url(#hs1)"/><path d="M1139 275L1194 273L1194 283L1217 334L1217 337.6L1123 337.6L1127 307Z" fill="url(#hs2)"/><g filter="url(#sblur)"><line x1="1420" y1="160" x2="1495" y2="160" stroke="#6e6e6e" stroke-width="1.5" stroke-opacity="0.45"/><line x1="1410" y1="175" x2="1495" y2="175" stroke="#6e6e6e" stroke-width="1.5" stroke-opacity="0.45"/><line x1="1430" y1="195" x2="1495" y2="195" stroke="#6e6e6e" stroke-width="1.5" stroke-opacity="0.4"/><line x1="1450" y1="225" x2="1495" y2="225" stroke="#787878" stroke-width="1.5" stroke-opacity="0.45"/><line x1="1460" y1="250" x2="1495" y2="250" stroke="#6e6e6e" stroke-width="1.5" stroke-opacity="0.4"/><line x1="1460" y1="270" x2="1495" y2="270" stroke="#6e6e6e" stroke-width="1.5" stroke-opacity="0.4"/><line x1="1455" y1="290" x2="1495" y2="290" stroke="#6e6e6e" stroke-width="1.5" stroke-opacity="0.4"/><line x1="1310" y1="205" x2="1366" y2="205" stroke="#787878" stroke-width="2" stroke-opacity="0.45"/><line x1="1200" y1="220" x2="1230" y2="220" stroke="#787878" stroke-width="1.5" stroke-opacity="0.5"/><line x1="1200" y1="232" x2="1230" y2="232" stroke="#787878" stroke-width="1.5" stroke-opacity="0.5"/><line x1="1082.5" y1="280" x2="1130" y2="280" stroke="#6e6e6e" stroke-width="3" stroke-opacity="0.4"/><line x1="1140" y1="305" x2="1210" y2="305" stroke="#636363" stroke-width="1.5" stroke-opacity="0.3"/></g><rect x="1082.5" y="24.8" width="413.5" height="312.8" filter="url(#grain)" opacity="0.25"/><rect x="1082.5" y="24.8" width="413.5" height="312.8" filter="url(#spk)" opacity="0.6"/></g>
<rect x="1082.5" y="337.6" width="413.5" height="19.399999999999977" fill="#000"/>
<g fill="#e6e6e6" style="font-family:'Liberation Sans',sans-serif;font-size:10px"><text x="1098.5" y="351.6">NONE</text><text x="1231" y="351.6">SEI</text><text x="1271" y="351.6">5.0kV</text><text x="1320.5" y="351.6">X200</text><text x="1364.5" y="351.6">100 µ m</text><text x="1413.5" y="351.6">WD 10.7mm</text></g>
<rect x="1336" y="340.1" width="69" height="2" fill="#e6e6e6"/>
<rect x="1107" y="36.4" width="202.3" height="56.2" fill="#fff"/>
<text x="1208.15" y="78.4" text-anchor="middle" fill="#ff0000" style="font-family:'Liberation Serif',serif;font-weight:bold;font-size:37.7px">Position #2</text>
</g><g>
<clipPath id="c2"><rect x="1082.5" y="426.3" width="413.5" height="311.90000000000003"/></clipPath>
<rect x="1082.5" y="426.3" width="413.5" height="331.5" fill="#353535"/>
<g clip-path="url(#c2)"><path d="M1082.5 426.3L1121 426.3L1121 449L1082.5 449Z" fill="#3d3d3d"/><path d="M1121 426.3L1184.6 426.3L1184.6 449L1121 449Z" fill="#292929"/><path d="M1184.6 426.3L1215 426.3L1212 441L1186 441Z" fill="#525252"/><path d="M1215 426.3L1262 426.3L1259.4 449L1186 449L1186 441L1212 441Z" fill="#252525"/><path d="M1262 440L1276 427.5L1320.4 427.5L1330 449L1259.4 449Z" fill="#5a5a5a"/><path d="M1082.5 506L1157.3 506L1155.8 520.4L1133.8 551.8L1121.2 544L1086.7 531.4L1082.5 531Z" fill="#3b3b3b"/><path d="M1157.3 506L1275 506L1218.6 570.6L1207.6 602L1191.9 608.3L1165.2 595.7L1144.8 573.8L1133.8 551.8L1155.8 520.4Z" fill="#292929"/><path d="M1082.5 531L1086.7 531.4L1121.2 544L1144.8 573.8L1165.2 595.7L1149.5 600.5L1129 640L1082.5 640Z" fill="#313131"/><path d="M1149.5 600.5L1165.2 596.5L1191.9 608.3L1155.8 640L1129 640Z" fill="#4a4a4a"/><path d="M1218.6 570.6L1275 506L1290 506L1290 600L1250 605L1215 603Z" fill="#4c4c4c"/><path d="M1207.6 602L1218.6 570.6L1215 603Z" fill="#333333"/><path d="M1082.5 449L1106 449L1106 479L1082.5 479Z" fill="#393939"/><path d="M1082.5 479L1106 479L1106 508L1082.5 508Z" fill="#222222"/><path d="M1308 449L1334 449L1336 467L1322 469L1308 469Z" fill="#464646"/><path d="M1320 426.3L1354 426.3L1387 467L1413 475L1356 475L1336 467Z" fill="#393939"/><path d="M1369 445.5L1424 449.4L1428 473L1413 475L1387 467Z" fill="#1d1d1d"/><path d="M1354 426.3L1473 426.3L1444 449L1424 449.4L1369 445.5Z" fill="#424242"/><path d="M1436 473L1473 430L1496 436L1496 445L1444 479Z" fill="#565656"/><path d="M1444 479L1496 445L1496 502L1444 502Z" fill="#292929"/><path d="M1322 469L1356 475L1413 475L1436 480L1444 502L1444 526L1409 538L1397 546L1336 540L1324 512Z" fill="#434343"/><path d="M1287 506L1324 512L1336 540L1335 595L1287 595Z" fill="#474747"/><path d="M1444 502L1496 502L1496 530L1471 547L1444 526Z" fill="#393939"/><path d="M1409 538L1438 527L1458 542L1473 561L1409 555Z" fill="#212121"/><path d="M1336 540L1397 546L1409 555L1385 595L1335 595Z" fill="#393939"/><path d="M1385 595L1409 555L1473 561L1496 567L1496 595Z" fill="#252525"/><path d="M1471 547L1496 530L1496 567L1483 565Z" fill="#4e4e4e"/><path d="M1082.5 590L1166 590L1166 598L1129 635L1100 627L1082.5 615Z" fill="#2d2d2d"/><path d="M1082.5 615L1100 627L1100 661L1096 704L1082.5 706Z" fill="#464646"/><path d="M1100 627L1129 635L1100 664.6Z" fill="#151515"/><path d="M1100 664.6L1129 635L1166 598L1186 607.7L1166 629L1139 656.7L1096 700Z" fill="#454545"/><path d="M1139 656.7L1166 629L1182 631L1198 643L1198 738.2L1129 738.2L1094 704Z" fill="#101010"/><path d="M1082.5 706L1094 704L1129 738.2L1082.5 738.2Z" fill="#464646"/><path d="M1166 590L1217 590L1217 610L1186 610L1166 598Z" fill="#313131"/><path d="M1217 590L1290 590L1290 634L1249 621L1217 614Z" fill="#4a4a4a"/><path d="M1198 643L1221 617L1249 621L1290 634L1290 637L1200 738.2L1192 738.2L1198 668Z" fill="#424242"/><path d="M1290 637L1290 738.2L1200 738.2Z" fill="#272727"/><path d="M1186 610L1221 617L1198 643L1182 631Z" fill="#212121"/><path d="M1287 590L1352 590L1360 602L1336 633L1312 635L1287 633Z" fill="#424242"/><path d="M1293 622L1305 620L1320 622L1322 629L1318 635L1295 635L1291 629Z" fill="#2d2d2d"/><path d="M1352 590L1385 590L1371 621L1360 602Z" fill="#525252"/><path d="M1385 590L1496 590L1496 637L1371 621Z" fill="#222222"/><path d="M1314 639L1346 610L1362 629L1352 657L1318 655Z" fill="#4a4a4a"/><path d="M1287 635L1314 637L1318 655L1330 688L1346 712L1336 738.2L1287 738.2Z" fill="#292929"/><path d="M1362 623L1496 639L1496 661L1456 708L1442 712L1360 708L1326 672L1352 657Z" fill="#1c1c1c"/><path d="M1326 672L1352 686L1360 708L1346 710Z" fill="#525252"/><path d="M1456 708L1496 661L1496 735L1477 720Z" fill="#525252"/><path d="M1346 712L1442 712L1483 723L1496 738.2L1336 738.2Z" fill="#363636"/><path d="M1121 426.3L1121 449M1184.6 426.3L1184.6 449M1121 449L1121 426.3M1215 426.3L1212 441M1212 441L1186 441M1186 441L1184.6 426.3M1262 426.3L1259.4 449M1186 449L1186 441M1186 441L1212 441M1212 441L1215 426.3M1262 440L1276 427.5M1276 427.5L1320.4 427.5M1320.4 427.5L1330 449M1259.4 449L1262 440M1157.3 506L1155.8 520.4M1155.8 520.4L1133.8 551.8M1133.8 551.8L1121.2 544M1121.2 544L1086.7 531.4M1086.7 531.4L1082.5 531M1275 506L1218.6 570.6M1207.6 602L1191.9 608.3M1191.9 608.3L1165.2 595.7M1165.2 595.7L1144.8 573.8M1144.8 573.8L1133.8 551.8M1133.8 551.8L1155.8 520.4M1155.8 520.4L1157.3 506M1082.5 531L1086.7 531.4M1086.7 531.4L1121.2 544M1121.2 544L1144.8 573.8M1144.8 573.8L1165.2 595.7M1165.2 595.7L1149.5 600.5M1149.5 600.5L1129 640M1149.5 600.5L1165.2 596.5M1165.2 596.5L1191.9 608.3M1191.9 608.3L1155.8 640M1129 640L1149.5 600.5M1218.6 570.6L1275 506M1106 449L1106 479M1106 479L1082.5 479M1082.5 479L1106 479M1106 479L1106 508M1106 508L1082.5 508M1334 449L1336 467M1336 467L1322 469M1322 469L1308 469M1308 469L1308 449M1354 426.3L1387 467M1387 467L1413 475M1413 475L1356 475M1356 475L1336 467M1336 467L1320 426.3M1369 445.5L1424 449.4M1424 449.4L1428 473M1428 473L1413 475M1413 475L1387 467M1387 467L1369 445.5M1473 426.3L1444 449M1424 449.4L1369 445.5M1369 445.5L1354 426.3M1436 473L1473 430M1473 430L1496 436M1496 445L1444 479M1444 479L1436 473M1444 479L1496 445M1496 502L1444 502M1444 502L1444 479M1322 469L1356 475M1356 475L1413 475M1413 475L1436 480M1436 480L1444 502M1444 502L1444 526M1444 526L1409 538M1409 538L1397 546M1397 546L1336 540M1336 540L1324 512M1324 512L1322 469M1287 506L1324 512M1324 512L1336 540M1336 540L1335 595M1444 502L1496 502M1496 530L1471 547M1471 547L1444 526M1444 526L1444 502M1409 538L1438 527M1438 527L1458 542M1458 542L1473 561M1473 561L1409 555M1409 555L1409 538M1336 540L1397 546M1397 546L1409 555M1409 555L1385 595M1335 595L1336 540M1385 595L1409 555M1409 555L1473 561M1473 561L1496 567M1471 547L1496 530M1496 567L1483 565M1483 565L1471 547M1166 590L1166 598M1166 598L1129 635M1129 635L1100 627M1100 627L1082.5 615M1082.5 615L1100 627M1100 627L1100 661M1100 661L1096 704M1096 704L1082.5 706M1100 627L1129 635M1129 635L1100 664.6M1100 664.6L1100 627M1100 664.6L1129 635M1129 635L1166 598M1166 598L1186 607.7M1186 607.7L1166 629M1166 629L1139 656.7M1139 656.7L1096 700M1096 700L1100 664.6M1139 656.7L1166 629M1166 629L1182 631M1182 631L1198 643M1198 643L1198 738.2M1129 738.2L1094 704M1094 704L1139 656.7M1082.5 706L1094 704M1094 704L1129 738.2M1217 590L1217 610M1217 610L1186 610M1186 610L1166 598M1166 598L1166 590M1290 634L1249 621M1249 621L1217 614M1217 614L1217 590M1198 643L1221 617M1221 617L1249 621M1249 621L1290 634M1290 637L1200 738.2M1192 738.2L1198 668M1198 668L1198 643M1200 738.2L1290 637M1186 610L1221 617M1221 617L1198 643M1198 643L1182 631M1182 631L1186 610M1352 590L1360 602M1360 602L1336 633M1336 633L1312 635M1312 635L1287 633M1293 622L1305 620M1305 620L1320 622M1320 622L1322 629M1322 629L1318 635M1318 635L1295 635M1295 635L1291 629M1291 629L1293 622M1385 590L1371 621M1371 621L1360 602M1360 602L1352 590M1496 637L1371 621M1371 621L1385 590M1314 639L1346 610M1346 610L1362 629M1362 629L1352 657M1352 657L1318 655M1318 655L1314 639M1287 635L1314 637M1314 637L1318 655M1318 655L1330 688M1330 688L1346 712M1346 712L1336 738.2M1362 623L1496 639M1496 661L1456 708M1456 708L1442 712M1442 712L1360 708M1360 708L1326 672M1326 672L1352 657M1352 657L1362 623M1326 672L1352 686M1352 686L1360 708M1360 708L1346 710M1346 710L1326 672M1456 708L1496 661M1496 735L1477 720M1477 720L1456 708M1346 712L1442 712M1442 712L1483 723M1483 723L1496 738.2M1336 738.2L1346 712" fill="none" stroke="#c8c8c8" stroke-opacity="0.6" stroke-width="1.8" stroke-linecap="round"/><path d="M1121 426.3L1262 426.3L1259.4 449L1121 449Z" fill="url(#hs1)"/><path d="M1121 426.3L1262 426.3L1259.4 449L1121 449Z" fill="url(#hs2)"/><path d="M1157.3 506L1275 506L1218.6 570.6L1207.6 602L1191.9 608.3L1165.2 595.7L1144.8 573.8L1133.8 551.8L1155.8 520.4Z" fill="url(#hs1)"/><path d="M1157.3 506L1275 506L1218.6 570.6L1207.6 602L1191.9 608.3L1165.2 595.7L1144.8 573.8L1133.8 551.8L1155.8 520.4Z" fill="url(#hs2)"/><path d="M1444 479L1496 445L1496 530L1471 547L1444 526Z" fill="url(#hs1)"/><path d="M1444 479L1496 445L1496 530L1471 547L1444 526Z" fill="url(#hs2)"/><path d="M1139 656.7L1166 629L1182 631L1198 643L1198 738.2L1129 738.2L1094 704Z" fill="url(#hs1)"/><path d="M1139 656.7L1166 629L1182 631L1198 643L1198 738.2L1129 738.2L1094 704Z" fill="url(#hs2)"/><path d="M1385 590L1496 590L1496 637L1371 621Z" fill="url(#hs1)"/><path d="M1385 590L1496 590L1496 637L1371 621Z" fill="url(#hs2)"/><path d="M1362 623L1496 639L1496 661L1456 708L1442 712L1360 708L1326 672L1352 657Z" fill="url(#hs1)"/><path d="M1362 623L1496 639L1496 661L1456 708L1442 712L1360 708L1326 672L1352 657Z" fill="url(#hs2)"/><path d="M1290 637L1290 738.2L1200 738.2Z" fill="url(#hs1)"/><path d="M1290 637L1290 738.2L1200 738.2Z" fill="url(#hs2)"/><path d="M1287 635L1314 637L1318 655L1330 688L1346 712L1336 738.2L1287 738.2Z" fill="url(#hs1)"/><path d="M1287 635L1314 637L1318 655L1330 688L1346 712L1336 738.2L1287 738.2Z" fill="url(#hs2)"/><g filter="url(#sblur)"><line x1="1129" y1="434.5" x2="1184.6" y2="434.5" stroke="#828282" stroke-width="2.5" stroke-opacity="0.7"/><line x1="1215" y1="438.6" x2="1262" y2="438.6" stroke="#6e6e6e" stroke-width="2" stroke-opacity="0.6"/><line x1="1162" y1="515" x2="1268" y2="515" stroke="#787878" stroke-width="2" stroke-opacity="0.5"/><line x1="1150" y1="537" x2="1250" y2="537" stroke="#6e6e6e" stroke-width="1.5" stroke-opacity="0.45"/><line x1="1140" y1="552" x2="1235" y2="552" stroke="#6e6e6e" stroke-width="1.5" stroke-opacity="0.4"/><line x1="1150" y1="570" x2="1222" y2="570" stroke="#6e6e6e" stroke-width="1.5" stroke-opacity="0.4"/><line x1="1165" y1="590" x2="1212" y2="590" stroke="#787878" stroke-width="2" stroke-opacity="0.5"/><line x1="1085" y1="656" x2="1140" y2="656" stroke="#828282" stroke-width="2" stroke-opacity="0.4"/><line x1="1140" y1="656" x2="1300" y2="656" stroke="#c7c7c7" stroke-width="3.5" stroke-opacity="0.65"/><line x1="1300" y1="656" x2="1495" y2="656" stroke="#959595" stroke-width="3" stroke-opacity="0.5"/><line x1="1252" y1="684" x2="1300" y2="684" stroke="#bdbdbd" stroke-width="2.5" stroke-opacity="0.6"/><line x1="1219" y1="718" x2="1280" y2="718" stroke="#959595" stroke-width="2" stroke-opacity="0.5"/><line x1="1100" y1="692" x2="1198" y2="692" stroke="#828282" stroke-width="2" stroke-opacity="0.5"/><line x1="1138" y1="717" x2="1156" y2="717" stroke="#8b8b8b" stroke-width="2" stroke-opacity="0.6"/><line x1="1172" y1="705" x2="1188" y2="707" stroke="#959595" stroke-width="2.5" stroke-opacity="0.6"/><line x1="1330" y1="636" x2="1495" y2="636" stroke="#6e6e6e" stroke-width="1.5" stroke-opacity="0.4"/><line x1="1385" y1="600" x2="1495" y2="600" stroke="#6e6e6e" stroke-width="2" stroke-opacity="0.4"/><line x1="1385" y1="612" x2="1495" y2="612" stroke="#636363" stroke-width="1.5" stroke-opacity="0.4"/><line x1="1380" y1="690" x2="1460" y2="690" stroke="#6e6e6e" stroke-width="2" stroke-opacity="0.4"/><line x1="1445" y1="540" x2="1495" y2="540" stroke="#6e6e6e" stroke-width="1.5" stroke-opacity="0.4"/><line x1="1445" y1="515" x2="1495" y2="515" stroke="#6e6e6e" stroke-width="1.5" stroke-opacity="0.4"/><line x1="1300" y1="513.5" x2="1440" y2="513.5" stroke="#bdbdbd" stroke-width="2.5" stroke-opacity="0.7"/></g><rect x="1082.5" y="426.3" width="413.5" height="311.90000000000003" filter="url(#grain)" opacity="0.25"/><rect x="1082.5" y="426.3" width="413.5" height="311.90000000000003" filter="url(#spk)" opacity="0.6"/></g>
<rect x="1082.5" y="738.2" width="413.5" height="19.59999999999991" fill="#000"/>
<g fill="#e6e6e6" style="font-family:'Liberation Sans',sans-serif;font-size:10px"><text x="1098.5" y="752.2">NONE</text><text x="1231" y="752.2">SEI</text><text x="1271" y="752.2">5.0kV</text><text x="1320.5" y="752.2">X200</text><text x="1364.5" y="752.2">100 µ m</text><text x="1413.5" y="752.2">WD 10.7mm</text></g>
<rect x="1336" y="740.7" width="69" height="2" fill="#e6e6e6"/>
<rect x="1106" y="449" width="202" height="57" fill="#fff"/>
<text x="1207.0" y="491" text-anchor="middle" fill="#0000ff" style="font-family:'Liberation Serif',serif;font-weight:bold;font-size:37.7px">Position #4</text>
</g><rect x="1307.05" y="169.7" width="61.55" height="64.25" fill="none" stroke="#00b0f0" stroke-width="4.3"/><rect x="1184.05" y="610.95" width="63.6" height="61.6" fill="none" stroke="#00b0f0" stroke-width="4.2"/>
</svg></body></html>
